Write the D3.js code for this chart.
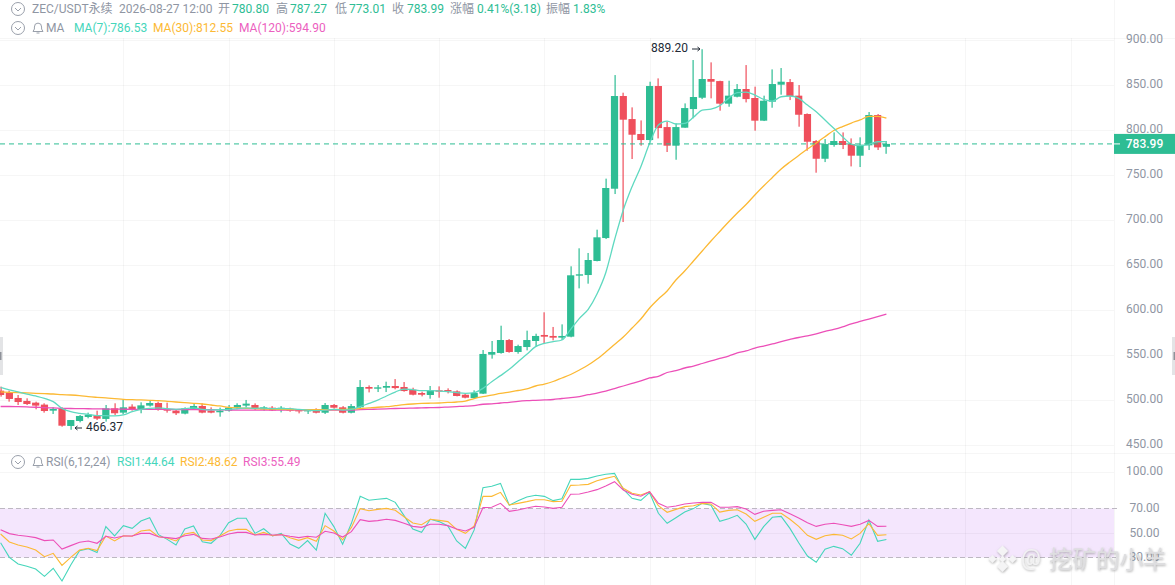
<!DOCTYPE html>
<html>
<head>
<meta charset="utf-8">
<style>
html, body { margin: 0; padding: 0; background: #fff; overflow: hidden; }
svg { display: block; }
text { font-family: Roboto, "Noto Sans CJK SC", sans-serif; }
</style>
</head>
<body>
<script src="https://cdnjs.cloudflare.com/ajax/libs/d3/7.8.5/d3.min.js"></script>
<script>

// candles, oldest first
var opens = [509.8,507.6,501.7,498.4,496.5,494.3,487.6,489.8,470.6,476.1,
  480.6,482.4,478.4,490.2,485.4,492.1,489.1,493.2,496.1,489.5,
  487.6,484.3,489.5,492.8,487.6,485.8,487.6,491.0,493.2,493.9,
  489.0,490.9,488.3,489.8,488.3,486.8,487.9,485.3,493.9,491.3,
  485.3,491.3,513.9,512.0,513.1,515.0,513.9,510.9,507.2,505.0,
  510.2,510.5,509.0,505.3,501.6,506.5,549.8,551.7,566.1,552.8,
  558.3,565.0,571.7,570.6,568.7,569.8,637.6,638.3,653.9,679.4,
  734.2,837.2,811.6,795.0,788.3,848.3,802.7,782.0,802.0,822.7,
  835.3,856.1,853.8,828.7,836.4,845.0,835.0,809.8,830.9,849.8,
  852.7,837.6,817.2,787.2,767.5,782.8,787.2,783.8,770.9,782.4,
  816.1,780.80];
var closes = [505.0,500.6,497.2,495.0,493.2,487.2,489.5,470.9,477.2,481.7,
  483.2,478.7,490.2,484.7,491.3,489.1,493.5,496.1,488.4,487.6,
  484.7,490.2,492.8,485.4,485.4,487.6,491.0,493.9,495.4,489.4,
  491.3,487.9,490.9,487.6,486.8,488.3,485.3,493.9,490.9,485.3,
  492.7,513.9,512.0,513.5,515.0,512.7,509.4,505.3,505.3,510.2,
  508.7,509.0,503.9,502.0,507.2,550.6,552.8,566.1,552.8,559.4,
  566.1,570.6,569.8,568.7,570.6,638.0,639.1,655.0,680.2,735.0,
  837.2,810.9,794.2,788.3,848.3,801.6,782.0,802.7,823.8,836.1,
  856.1,853.1,828.7,837.6,845.0,833.8,809.8,832.0,850.5,853.1,
  837.2,816.4,786.4,767.5,783.8,787.2,782.8,770.9,783.1,816.1,
  780.1,783.99];
var highs = [514.3,509.8,505.0,501.3,497.6,495.8,491.3,491.3,477.2,482.8,
  485.4,487.6,493.9,495.8,499.5,494.7,496.9,499.5,497.6,496.5,
  489.1,491.3,495.8,495.8,491.3,491.0,493.9,495.8,499.5,495.7,
  492.7,492.7,492.7,490.9,489.4,489.4,490.2,496.1,495.0,492.7,
  495.0,521.6,515.7,516.1,519.8,522.7,519.4,513.1,508.7,515.0,
  514.6,512.4,510.2,506.1,510.2,555.0,565.0,582.0,567.2,560.9,
  576.5,573.1,596.9,580.6,583.5,648.0,668.0,662.8,688.7,745.4,
  860.5,840.9,824.6,810.1,853.1,856.8,808.7,806.8,829.0,877.2,
  889.20,874.6,854.2,854.2,850.5,871.6,847.6,837.6,866.8,868.3,
  856.1,849.4,817.9,788.3,789.4,796.8,796.8,790.1,791.3,819.4,
  817.2,787.27];
var lows = [503.2,497.6,493.9,493.9,489.1,485.4,483.9,469.8,466.37,474.6,
  479.1,477.2,475.4,482.8,483.5,487.6,484.7,492.1,487.6,485.4,
  482.8,483.5,488.4,484.7,484.7,480.9,486.5,489.1,491.3,488.3,
  487.6,487.2,485.7,486.4,484.6,483.9,484.6,483.9,489.8,484.6,
  484.6,490.2,507.9,508.3,508.3,511.3,508.7,504.6,503.5,500.9,
  502.0,506.8,503.5,501.3,501.3,506.1,545.4,550.9,552.0,550.9,
  554.6,558.7,562.4,565.7,566.1,569.1,623.5,628.7,653.5,678.3,
  728.3,697.2,767.2,782.0,785.7,790.1,775.0,766.4,802.0,812.4,
  833.8,834.6,820.9,825.3,835.7,830.1,798.7,809.4,824.2,838.7,
  832.7,803.1,776.4,752.0,763.8,780.9,778.3,759.0,758.3,777.2,
  777.2,773.01];

var ma7 = [513.5,510.6,508.4,506.1,503.9,501.3,497.6,490.2,486.5,484.7,
  483.5,482.1,482.1,481.7,482.8,486.5,489.1,490.2,490.6,489.8,
  489.1,489.8,490.6,489.1,488.4,488.7,489.1,489.8,490.6,490.2,
  490.5,489.8,489.8,489.8,489.0,488.3,487.6,488.3,489.0,488.3,
  489.0,492.0,495.7,499.4,503.9,508.3,511.6,510.9,509.8,509.8,
  509.4,508.7,507.6,506.8,507.6,512.4,519.8,526.5,533.5,542.0,
  550.2,558.7,562.4,564.3,566.1,578.0,590.2,600.2,617.2,640.9,
  677.2,710.6,736.5,758.7,784.6,805.0,809.4,806.1,806.8,813.5,
  821.6,822.7,826.4,834.6,840.9,841.6,838.3,833.5,831.6,836.4,
  837.2,834.6,827.2,819.8,810.5,801.3,792.0,783.8,782.0,783.5,
  786.4,786.53];
var ma30 = [508.4,508.0,507.6,507.3,506.9,506.5,506.1,505.4,505.0,504.3,
  503.2,502.4,501.7,501.0,500.2,499.8,499.5,499.1,498.7,498.0,
  497.2,496.5,495.8,495.0,493.9,492.8,491.3,490.6,490.2,490.0,
  489.5,489.2,489.0,488.8,488.7,488.6,488.6,488.7,488.8,489.0,
  489.2,489.8,490.6,491.4,492.0,493.1,494.2,495.0,495.6,495.9,
  496.1,496.7,497.2,498.3,501.1,503.1,504.8,506.7,508.3,510.0,
  511.7,515.0,517.2,520.0,523.9,527.8,532.8,538.3,545.0,552.8,
  561.1,569.4,579.4,589.4,601.7,611.7,620.6,632.8,642.8,653.9,
  665.0,676.1,686.7,697.2,707.2,716.6,727.2,737.2,746.7,756.1,
  763.9,771.1,778.3,785.0,792.0,798.9,803.3,807.2,810.6,814.5,
  814.5,812.55];
var ma120 = [492.2,492.2,492.0,491.7,491.4,490.9,490.6,490.2,490.0,489.9,
  489.7,489.6,489.4,489.3,489.2,489.1,489.1,489.0,489.0,488.9,
  488.9,488.8,488.7,488.6,488.6,488.5,488.4,488.3,488.3,488.3,
  488.3,488.3,488.3,488.3,488.3,488.3,488.3,488.3,488.3,488.3,
  488.3,488.7,489.0,489.3,489.6,490.0,490.2,490.4,490.7,490.9,
  491.1,491.6,492.1,492.6,493.3,494.7,495.2,496.1,496.9,498.0,
  498.7,499.1,499.5,500.0,501.1,502.0,503.3,505.3,507.2,509.4,
  512.2,515.0,517.8,520.6,523.9,525.8,530.0,532.2,535.0,537.2,
  540.0,542.8,545.6,548.3,551.7,553.9,557.2,559.4,561.7,564.4,
  566.7,568.9,570.6,572.8,575.6,577.8,580.6,583.9,586.7,589.4,
  592.2,594.90];

var rsi1 = [42.1,30.1,24.7,22.8,20.6,14.6,21.2,10.8,23.9,35.6,
  37.2,34.0,55.2,47.6,56.0,53.8,59.8,62.5,48.6,44.8,
  40.2,53.3,55.7,42.9,41.6,47.8,58.4,62.0,62.0,49.7,
  53.5,47.6,49.7,41.0,37.5,43.8,36.1,66.1,55.2,40.8,
  57.9,79.9,76.7,77.5,78.3,75.0,64.2,53.3,50.6,61.2,
  59.3,55.7,43.5,37.5,52.5,87.0,88.1,90.5,72.6,76.4,
  79.4,80.8,79.9,76.4,78.0,93.8,93.8,94.6,96.5,97.9,
  98.7,85.7,78.3,76.7,82.9,66.1,57.9,62.5,67.1,69.9,
  74.2,72.6,59.5,61.7,64.4,57.3,44.8,55.2,62.8,63.6,
  53.8,42.1,31.2,26.1,36.7,39.1,37.2,31.8,41.6,60.6,
  43.2,44.64];
var rsi2 = [49.2,42.7,40.2,38.6,36.1,30.7,33.4,23.6,30.1,36.1,
  37.5,35.6,47.6,43.5,47.8,47.3,51.6,52.5,47.0,45.9,
  43.5,49.2,50.5,44.3,43.8,47.6,51.6,53.0,53.0,48.4,
  50.5,47.8,48.9,46.2,44.0,46.2,43.2,56.0,51.6,44.3,
  54.6,69.9,68.2,69.3,70.1,68.5,63.3,58.2,56.8,61.2,
  60.3,59.3,53.0,49.7,55.7,79.9,79.9,83.2,72.9,74.2,
  75.6,77.2,77.2,75.6,75.9,88.9,89.2,89.7,92.7,94.6,
  96.3,86.5,82.4,81.0,83.7,72.3,66.9,69.3,71.5,72.3,
  74.2,73.7,67.1,68.5,69.0,65.5,59.5,62.8,66.1,66.1,
  61.2,55.4,48.1,44.8,47.8,48.9,48.1,45.1,49.7,57.6,
  48.1,48.62];
var rsi3 = [52.7,49.5,48.1,47.3,46.2,43.8,44.3,36.9,39.7,42.4,
  43.5,41.6,47.3,45.9,47.6,47.6,49.7,49.7,47.0,46.2,
  45.4,47.8,48.9,45.6,45.1,46.7,49.2,50.5,50.5,48.4,
  48.9,48.4,48.6,47.3,46.2,47.3,46.5,51.4,50.0,46.7,
  51.1,60.9,59.5,60.1,61.2,60.3,57.9,55.4,54.6,57.1,
  57.1,56.0,53.3,51.6,54.6,70.7,71.0,74.2,67.7,68.8,
  70.4,71.8,71.2,70.1,71.0,81.6,81.8,83.5,85.4,88.4,
  91.9,85.1,81.6,80.0,83.7,74.2,71.0,72.0,73.7,74.5,
  75.0,75.0,71.0,71.0,71.5,69.6,65.2,67.7,68.5,69.0,
  65.8,62.3,58.4,55.4,57.1,57.9,56.8,55.4,57.1,60.3,
  55.4,55.49];

var priceTicks = [450, 500, 550, 600, 650, 700, 750, 800, 850, 900];
var rsiTicks = [30, 50, 70, 100];
var timeGrid = [14, 26, 38, 50, 62, 74, 86, 98, 110, 122]; // candle index of each vertical grid line
var lastPrice = 783.99;

var width = 1175, height = 585, axisX = 1114;
var green = '#2ebd94', red = '#ef4f5c', gray = '#8f96a3';
var tealLine = '#5fd9c0', orangeLine = '#fcb934', pinkLine = '#ec4fb8';

var svg = d3.select('body').append('svg')
    .attr('width', width)
    .attr('height', height)
    .attr('font-size', 12);

var x = d3.scaleLinear().domain([0, 101]).range([0.6, 886.4]);
var y = d3.scaleLinear().domain([450, 900]).range([444.5, 39.5]);
var yRsi = d3.scaleLinear().domain([30, 70]).range([557.5, 508.5]);

// rsi band
svg.append('rect')
    .attr('x', 0).attr('width', axisX)
    .attr('y', yRsi(70)).attr('height', yRsi(30) - yRsi(70))
    .attr('fill', '#f4e6fd');

// grid
var grid = svg.append('g').attr('stroke', 'rgba(0,0,0,0.035)').attr('shape-rendering', 'crispEdges');
timeGrid.forEach(function(i) {
  grid.append('line').attr('x1', Math.round(x(i))).attr('x2', Math.round(x(i))).attr('y1', 38).attr('y2', height);
});
priceTicks.forEach(function(t) {
  grid.append('line').attr('x1', 0).attr('x2', axisX).attr('y1', Math.round(y(t))).attr('y2', Math.round(y(t)));
});
[50, 100].forEach(function(t) {
  grid.append('line').attr('x1', 0).attr('x2', axisX).attr('y1', Math.round(yRsi(t))).attr('y2', Math.round(yRsi(t)));
});
grid.append('line').attr('x1', 0).attr('x2', width).attr('y1', 453).attr('y2', 453);
grid.append('line').attr('x1', 0).attr('x2', width).attr('y1', 38).attr('y2', 38);
grid.append('line').attr('x1', axisX).attr('x2', axisX).attr('y1', 0).attr('y2', height);

[30, 70].forEach(function(t) {
  svg.append('line')
      .attr('x1', 0).attr('x2', 1120)
      .attr('y1', yRsi(t)).attr('y2', yRsi(t))
      .attr('stroke', '#bdb8c2').attr('stroke-dasharray', '5 3');
});

// candles
var idx = d3.range(opens.length);
var candles = svg.append('g').selectAll('g').data(idx).enter().append('g')
    .attr('fill', function(i) { return closes[i] >= opens[i] ? green : red; });
candles.append('rect')
    .attr('x', function(i) { return Math.round(x(i)) - 0.5; })
    .attr('width', 1.2)
    .attr('y', function(i) { return y(highs[i]); })
    .attr('height', function(i) { return y(lows[i]) - y(highs[i]); });
candles.append('rect')
    .attr('x', function(i) { return x(i) - 3.6; })
    .attr('width', 7.2)
    .attr('y', function(i) { return y(Math.max(opens[i], closes[i])); })
    .attr('height', function(i) { return Math.max(1.2, Math.abs(opens[i] - closes[i]) * 0.9); });

// moving averages
function drawLine(values, scale, color, curve, w) {
  svg.append('path')
      .attr('d', d3.line()
        .x(function(d, i) { return x(i); })
        .y(function(d) { return scale(d); })
        .curve(curve)(values))
      .attr('fill', 'none')
      .attr('stroke', color)
      .attr('stroke-width', w);
}
drawLine(ma120, y, pinkLine, d3.curveMonotoneX, 1.3);
drawLine(ma30, y, orangeLine, d3.curveMonotoneX, 1.3);
drawLine(ma7, y, tealLine, d3.curveMonotoneX, 1.3);

drawLine(rsi1, yRsi, '#45d6bb', d3.curveLinear, 1.1);
drawLine(rsi2, yRsi, orangeLine, d3.curveLinear, 1.1);
drawLine(rsi3, yRsi, pinkLine, d3.curveLinear, 1.1);

// last price line and label
svg.append('line')
    .attr('x1', 0).attr('x2', axisX)
    .attr('y1', y(lastPrice)).attr('y2', y(lastPrice))
    .attr('stroke', green).attr('stroke-dasharray', '5 4');

// axes
var fmt = d3.format('.2f');
var priceAxis = svg.append('g')
    .attr('transform', 'translate(1144.5,-0.6)')
    .call(d3.axisRight(y).tickValues(priceTicks).tickFormat(fmt).tickSize(0).tickPadding(0));
var rsiAxis = svg.append('g')
    .attr('transform', 'translate(1144.5,-0.8)')
    .call(d3.axisRight(yRsi).tickValues(rsiTicks).tickFormat(fmt).tickSize(0).tickPadding(0));
[priceAxis, rsiAxis].forEach(function(a) {
  a.attr('font-family', null).attr('font-size', null);
  a.select('.domain').remove();
  a.selectAll('text').attr('fill', gray).attr('text-anchor', 'middle');
});

svg.append('rect').attr('x', axisX).attr('width', width - axisX)
    .attr('y', y(lastPrice) - 10).attr('height', 20).attr('fill', green);
svg.append('line').attr('x1', axisX).attr('x2', 1120)
    .attr('y1', y(lastPrice)).attr('y2', y(lastPrice)).attr('stroke', '#fff');
svg.append('text').attr('x', 1144.5).attr('y', y(lastPrice) + 4.2)
    .attr('text-anchor', 'middle').attr('fill', '#fff').attr('font-weight', 500)
    .text(fmt(lastPrice));

// high / low marks
function arrow(x1, x2, yy) {
  var dir = x2 > x1 ? -1 : 1;
  svg.append('path')
      .attr('d', 'M' + x1 + ',' + yy + 'L' + x2 + ',' + yy +
        'M' + (x2 + dir * 2.5) + ',' + (yy - 2) + 'L' + x2 + ',' + yy + 'L' + (x2 + dir * 2.5) + ',' + (yy + 2))
      .attr('fill', 'none').attr('stroke', '#222a36').attr('stroke-width', 1);
}
svg.append('text').attr('x', 651).attr('y', 52).attr('fill', '#222a36').text('889.20');
arrow(692, 700, 49);
svg.append('text').attr('x', 86).attr('y', 431).attr('fill', '#222a36').text('466.37');
arrow(82, 75, 428);

// legends
function label(px, py, str, color) {
  svg.append('text').attr('x', px).attr('y', py + 4.2).attr('fill', color).text(str);
}
function chevron(cx, cy) {
  svg.append('circle').attr('cx', cx).attr('cy', cy).attr('r', 6.5)
      .attr('fill', 'none').attr('stroke', '#9aa0ab');
  svg.append('path').attr('d', 'M' + (cx - 3) + ',' + (cy - 1) + 'L' + cx + ',' + (cy + 2) + 'L' + (cx + 3) + ',' + (cy - 1))
      .attr('fill', 'none').attr('stroke', '#9aa0ab');
}
function bell(cx, cy) {
  svg.append('path')
      .attr('d', 'M' + (cx - 5) + ',' + (cy + 3.5) + 'H' + (cx + 5) + 'L' + (cx + 3.6) + ',' + (cy + 1) + 'V' + (cy - 1) +
        'A3.6,3.9 0 0 0 ' + (cx - 3.6) + ',' + (cy - 1) + 'V' + (cy + 1) + 'Z' +
        'M' + (cx - 1.5) + ',' + (cy + 5) + 'H' + (cx + 1.5))
      .attr('fill', 'none').attr('stroke', '#9aa0ab');
}
chevron(18, 9); chevron(18, 28); chevron(18, 462);
bell(38, 28); bell(38, 462);

var headerGray = '#8f96a3', up = '#2ebd94';
label(32, 9, 'ZEC/USDT永续', headerGray);
label(119, 9, '2026-08-27 12:00', headerGray);
label(218, 9, '开', headerGray); label(232, 9, '780.80', up);
label(276, 9, '高', headerGray); label(290, 9, '787.27', up);
label(335, 9, '低', headerGray); label(349, 9, '773.01', up);
label(392, 9, '收', headerGray); label(407, 9, '783.99', up);
label(450, 9, '涨幅', headerGray); label(477, 9, '0.41%(3.18)', up);
label(546, 9, '振幅', headerGray); label(573, 9, '1.83%', up);

label(46, 28, 'MA', headerGray);
label(74, 28, 'MA(7):786.53', '#45d6bb');
label(153, 28, 'MA(30):812.55', orangeLine);
label(239, 28, 'MA(120):594.90', '#ec5fc0');

label(46, 462, 'RSI(6,12,24)', headerGray);
label(117, 462, 'RSI1:44.64', '#45d6bb');
label(180, 462, 'RSI2:48.62', orangeLine);
label(243, 462, 'RSI3:55.49', '#ec5fc0');

// side handles
svg.append('rect').attr('x', 0).attr('y', 337).attr('width', 3).attr('height', 38).attr('fill', '#e3e4e6');
svg.append('rect').attr('x', 0).attr('y', 352).attr('width', 1.5).attr('height', 8).attr('fill', '#8f9299');
svg.append('rect').attr('x', 1172).attr('y', 337).attr('width', 3).attr('height', 38).attr('fill', '#e3e4e6');
svg.append('rect').attr('x', 1173.5).attr('y', 352).attr('width', 1.5).attr('height', 8).attr('fill', '#8f9299');

// watermark
var wm = svg.append('g');
var defs = svg.append('defs');
var blur = defs.append('filter').attr('id', 'wmShadow').attr('x', '-20%').attr('y', '-20%').attr('width', '140%').attr('height', '140%');
blur.append('feDropShadow').attr('dx', 0.5).attr('dy', 1).attr('stdDeviation', 0.8).attr('flood-color', '#888').attr('flood-opacity', 0.7);
wm.attr('filter', 'url(#wmShadow)');
[[1002.5, 551, 5.5], [992.5, 559, 4], [1012.5, 559, 4], [1002.5, 559, 3.5], [1002.5, 566.5, 5.5]].forEach(function(d) {
  var s = d[2];
  wm.append('path')
      .attr('d', 'M' + d[0] + ',' + (d[1] - s) + 'L' + (d[0] + s) + ',' + d[1] + 'L' + d[0] + ',' + (d[1] + s) + 'L' + (d[0] - s) + ',' + d[1] + 'Z')
      .attr('fill', '#f4f4f5');
});
wm.append('text').attr('x', 1021).attr('y', 565).attr('font-size', 22).attr('fill', '#f2f2f3').text('@');
wm.append('text').attr('x', 1049).attr('y', 568).attr('font-size', 23.5).attr('fill', '#dedee0').text('挖矿的小羊');

</script>
</body>
</html>
